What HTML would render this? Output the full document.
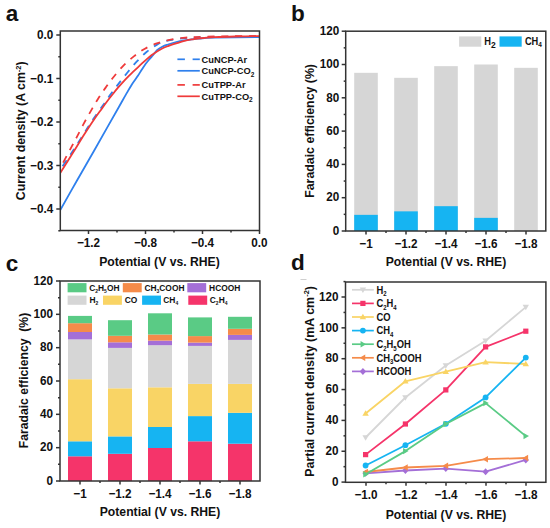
<!DOCTYPE html>
<html><head><meta charset="utf-8"><style>
html,body{margin:0;padding:0;background:#fff;}
svg{display:block;}
text{font-family:'Liberation Sans', sans-serif;font-weight:bold;fill:#111111;}
</style></head><body>
<svg width="550" height="528" viewBox="0 0 550 528">
<defs><clipPath id="clipa"><rect x="60" y="31" width="199.5" height="199.5"/></clipPath></defs>
<rect width="550" height="528" fill="#fff"/>
<text x="5.80" y="21.00" font-size="22.5" text-anchor="start" >a</text>
<g clip-path="url(#clipa)" fill="none" stroke-width="1.8">
<path d="M62.30,166.60 C63.91,164.22 68.55,157.52 71.95,152.35 C75.35,147.18 79.36,140.82 82.70,135.60 C86.04,130.38 88.65,126.00 92.00,121.00 C95.35,116.00 99.67,110.08 102.80,105.60 C105.93,101.12 108.15,97.77 110.80,94.10 C113.45,90.43 115.96,87.16 118.70,83.60 C121.44,80.04 124.30,76.36 127.25,72.75 C130.20,69.14 133.14,65.45 136.40,61.95 C139.66,58.45 143.28,54.67 146.80,51.75 C150.32,48.83 154.05,46.24 157.50,44.40 C160.95,42.56 163.25,41.72 167.50,40.70 C171.75,39.68 177.58,38.87 183.00,38.30 C188.42,37.73 192.17,37.57 200.00,37.30 C207.83,37.03 220.08,36.85 230.00,36.70 C239.92,36.55 254.58,36.45 259.50,36.40" stroke="#2f80ed" stroke-dasharray="7 6.75" stroke-dashoffset="13.15"/>
<path d="M62.30,164.20 C63.75,161.47 68.57,152.36 71.00,147.80 C73.43,143.24 74.84,140.75 76.90,136.85 C78.96,132.95 81.08,128.61 83.35,124.40 C85.62,120.19 88.09,115.80 90.50,111.60 C92.91,107.40 95.47,102.92 97.80,99.20 C100.12,95.48 102.06,92.70 104.45,89.30 C106.84,85.90 109.07,82.67 112.15,78.80 C115.23,74.93 119.28,69.88 122.95,66.10 C126.62,62.32 130.49,59.00 134.15,56.10 C137.81,53.20 141.12,50.82 144.90,48.70 C148.68,46.58 152.87,44.83 156.80,43.40 C160.73,41.97 164.13,41.02 168.50,40.10 C172.87,39.18 178.50,38.40 183.00,37.90 C187.50,37.40 189.33,37.35 195.50,37.10 C201.67,36.85 209.33,36.58 220.00,36.40 C230.67,36.22 252.92,36.07 259.50,36.00" stroke="#ef3a3a" stroke-dasharray="7 6.75" stroke-dashoffset="11.7"/>
<path d="M60.40,209.80 C63.17,204.92 71.32,190.47 77.00,180.50 C82.68,170.53 89.33,159.07 94.50,150.00 C99.67,140.93 103.87,133.38 108.00,126.10 C112.13,118.82 116.30,111.58 119.30,106.30 C122.30,101.02 123.88,98.08 126.00,94.40 C128.12,90.72 130.02,87.30 132.00,84.20 C133.98,81.10 136.28,78.20 137.90,75.80 C139.52,73.40 140.40,71.80 141.70,69.80 C143.00,67.80 144.32,65.67 145.70,63.80 C147.08,61.93 148.78,60.03 150.00,58.60 C151.22,57.17 151.83,56.62 153.00,55.20 C154.17,53.78 155.38,51.55 157.00,50.10 C158.62,48.65 160.87,47.43 162.70,46.50 C164.53,45.57 165.75,45.25 168.00,44.50 C170.25,43.75 173.47,42.68 176.20,42.00 C178.93,41.32 180.77,40.95 184.40,40.40 C188.03,39.85 192.90,39.15 198.00,38.70 C203.10,38.25 204.75,37.98 215.00,37.70 C225.25,37.42 252.08,37.12 259.50,37.00" stroke="#2f80ed"/>
<path d="M60.40,172.70 C61.58,170.82 64.92,165.52 67.50,161.40 C70.08,157.28 73.36,152.11 75.90,148.00 C78.44,143.89 80.67,140.10 82.75,136.75 C84.83,133.40 86.34,131.03 88.40,127.90 C90.46,124.78 92.93,121.12 95.10,118.00 C97.27,114.88 99.42,111.95 101.40,109.20 C103.38,106.45 105.12,104.00 107.00,101.50 C108.88,99.00 110.87,96.50 112.70,94.20 C114.53,91.90 116.37,89.63 118.00,87.70 C119.63,85.77 120.77,84.48 122.50,82.60 C124.23,80.72 126.65,78.18 128.40,76.40 C130.15,74.62 131.42,73.42 133.00,71.90 C134.58,70.38 135.78,69.25 137.90,67.30 C140.02,65.35 143.45,62.20 145.70,60.20 C147.95,58.20 149.52,56.77 151.40,55.30 C153.28,53.83 155.12,52.58 157.00,51.40 C158.88,50.22 160.87,49.08 162.70,48.20 C164.53,47.32 165.75,46.90 168.00,46.10 C170.25,45.30 173.47,44.27 176.20,43.40 C178.93,42.53 181.68,41.58 184.40,40.90 C187.12,40.22 190.23,39.70 192.50,39.30 C194.77,38.90 194.25,38.85 198.00,38.50 C201.75,38.15 208.83,37.53 215.00,37.20 C221.17,36.87 227.58,36.68 235.00,36.50 C242.42,36.32 255.42,36.17 259.50,36.10" stroke="#ef3a3a"/>
</g>
<rect x="60.3" y="31" width="199.2" height="199.5" fill="none" stroke="#333333" stroke-width="1.5"/>
<line x1="56.3" y1="35.00" x2="60.3" y2="35.00" stroke="#333333" stroke-width="1.5"/>
<line x1="56.3" y1="78.50" x2="60.3" y2="78.50" stroke="#333333" stroke-width="1.5"/>
<line x1="56.3" y1="122.00" x2="60.3" y2="122.00" stroke="#333333" stroke-width="1.5"/>
<line x1="56.3" y1="165.50" x2="60.3" y2="165.50" stroke="#333333" stroke-width="1.5"/>
<line x1="56.3" y1="209.00" x2="60.3" y2="209.00" stroke="#333333" stroke-width="1.5"/>
<line x1="58.3" y1="56.75" x2="60.3" y2="56.75" stroke="#333333" stroke-width="1.5"/>
<line x1="58.3" y1="100.25" x2="60.3" y2="100.25" stroke="#333333" stroke-width="1.5"/>
<line x1="58.3" y1="143.75" x2="60.3" y2="143.75" stroke="#333333" stroke-width="1.5"/>
<line x1="58.3" y1="187.25" x2="60.3" y2="187.25" stroke="#333333" stroke-width="1.5"/>
<line x1="58.3" y1="230.75" x2="60.3" y2="230.75" stroke="#333333" stroke-width="1.5"/>
<line x1="88.50" y1="230.5" x2="88.50" y2="234.0" stroke="#333333" stroke-width="1.5"/>
<line x1="145.50" y1="230.5" x2="145.50" y2="234.0" stroke="#333333" stroke-width="1.5"/>
<line x1="202.50" y1="230.5" x2="202.50" y2="234.0" stroke="#333333" stroke-width="1.5"/>
<line x1="259.50" y1="230.5" x2="259.50" y2="234.0" stroke="#333333" stroke-width="1.5"/>
<line x1="117.00" y1="230.5" x2="117.00" y2="232.5" stroke="#333333" stroke-width="1.5"/>
<line x1="174.00" y1="230.5" x2="174.00" y2="232.5" stroke="#333333" stroke-width="1.5"/>
<line x1="231.00" y1="230.5" x2="231.00" y2="232.5" stroke="#333333" stroke-width="1.5"/>
<text transform="translate(53.20,39.20) scale(1,1.06)" font-size="11.7" text-anchor="end" >0.0</text>
<text transform="translate(53.20,82.70) scale(1,1.06)" font-size="11.7" text-anchor="end" >−0.1</text>
<text transform="translate(53.20,126.20) scale(1,1.06)" font-size="11.7" text-anchor="end" >−0.2</text>
<text transform="translate(53.20,169.70) scale(1,1.06)" font-size="11.7" text-anchor="end" >−0.3</text>
<text transform="translate(53.20,213.20) scale(1,1.06)" font-size="11.7" text-anchor="end" >−0.4</text>
<text transform="translate(88.50,246.60) scale(1,1.06)" font-size="11.7" text-anchor="middle" >−1.2</text>
<text transform="translate(145.50,246.60) scale(1,1.06)" font-size="11.7" text-anchor="middle" >−0.8</text>
<text transform="translate(202.50,246.60) scale(1,1.06)" font-size="11.7" text-anchor="middle" >−0.4</text>
<text transform="translate(259.50,246.60) scale(1,1.06)" font-size="11.7" text-anchor="middle" >0.0</text>
<text x="159.50" y="265.50" font-size="12.2" text-anchor="middle" >Potential (V vs. RHE)</text>
<text transform="translate(25.4,130.8) rotate(-90)" font-size="12.3" text-anchor="middle">Current density (A cm<tspan font-size="7.5" dy="-4.5">-2</tspan><tspan dy="4.5">)</tspan></text>
<line x1="177.4" y1="59.3" x2="184.9" y2="59.3" stroke="#2f80ed" stroke-width="1.7"/>
<line x1="192.6" y1="59.3" x2="199.8" y2="59.3" stroke="#2f80ed" stroke-width="1.7"/>
<text transform="translate(201.60,62.70) scale(1,1.06)" font-size="9.3" text-anchor="start" >CuNCP-Ar</text>
<line x1="177.4" y1="70.8" x2="199.8" y2="70.8" stroke="#2f80ed" stroke-width="1.7"/>
<text transform="translate(201.60,74.20) scale(1,1.06)" font-size="9.3" text-anchor="start" >CuNCP-CO<tspan font-size="6.5" dy="2.5">2</tspan></text>
<line x1="177.4" y1="84.9" x2="184.9" y2="84.9" stroke="#ef3a3a" stroke-width="1.7"/>
<line x1="192.6" y1="84.9" x2="199.8" y2="84.9" stroke="#ef3a3a" stroke-width="1.7"/>
<text transform="translate(201.60,88.30) scale(1,1.06)" font-size="9.3" text-anchor="start" >CuTPP-Ar</text>
<line x1="177.4" y1="96.3" x2="199.8" y2="96.3" stroke="#ef3a3a" stroke-width="1.7"/>
<text transform="translate(201.60,99.70) scale(1,1.06)" font-size="9.3" text-anchor="start" >CuTPP-CO<tspan font-size="6.5" dy="2.5">2</tspan></text>
<text x="291.00" y="20.50" font-size="22.5" text-anchor="start" >b</text>
<rect x="354.20" y="72.82" width="23.6" height="158.18" fill="#d6d6d6"/>
<rect x="354.20" y="214.85" width="23.6" height="16.15" fill="#16b4f2"/>
<rect x="394.20" y="77.82" width="23.6" height="153.18" fill="#d6d6d6"/>
<rect x="394.20" y="211.35" width="23.6" height="19.65" fill="#16b4f2"/>
<rect x="434.20" y="66.16" width="23.6" height="164.84" fill="#d6d6d6"/>
<rect x="434.20" y="206.19" width="23.6" height="24.81" fill="#16b4f2"/>
<rect x="474.20" y="64.50" width="23.6" height="166.50" fill="#d6d6d6"/>
<rect x="474.20" y="217.85" width="23.6" height="13.15" fill="#16b4f2"/>
<rect x="514.20" y="67.83" width="23.6" height="163.17" fill="#d6d6d6"/>
<rect x="345.7" y="31.2" width="200.09999999999997" height="199.8" fill="none" stroke="#333333" stroke-width="1.5"/>
<line x1="341.7" y1="231.00" x2="345.7" y2="231.00" stroke="#333333" stroke-width="1.5"/>
<line x1="341.7" y1="197.70" x2="345.7" y2="197.70" stroke="#333333" stroke-width="1.5"/>
<line x1="341.7" y1="164.40" x2="345.7" y2="164.40" stroke="#333333" stroke-width="1.5"/>
<line x1="341.7" y1="131.10" x2="345.7" y2="131.10" stroke="#333333" stroke-width="1.5"/>
<line x1="341.7" y1="97.80" x2="345.7" y2="97.80" stroke="#333333" stroke-width="1.5"/>
<line x1="341.7" y1="64.50" x2="345.7" y2="64.50" stroke="#333333" stroke-width="1.5"/>
<line x1="341.7" y1="31.20" x2="345.7" y2="31.20" stroke="#333333" stroke-width="1.5"/>
<line x1="343.7" y1="214.35" x2="345.7" y2="214.35" stroke="#333333" stroke-width="1.5"/>
<line x1="343.7" y1="181.05" x2="345.7" y2="181.05" stroke="#333333" stroke-width="1.5"/>
<line x1="343.7" y1="147.75" x2="345.7" y2="147.75" stroke="#333333" stroke-width="1.5"/>
<line x1="343.7" y1="114.45" x2="345.7" y2="114.45" stroke="#333333" stroke-width="1.5"/>
<line x1="343.7" y1="81.15" x2="345.7" y2="81.15" stroke="#333333" stroke-width="1.5"/>
<line x1="343.7" y1="47.85" x2="345.7" y2="47.85" stroke="#333333" stroke-width="1.5"/>
<line x1="366.00" y1="231" x2="366.00" y2="234.5" stroke="#333333" stroke-width="1.5"/>
<line x1="406.00" y1="231" x2="406.00" y2="234.5" stroke="#333333" stroke-width="1.5"/>
<line x1="446.00" y1="231" x2="446.00" y2="234.5" stroke="#333333" stroke-width="1.5"/>
<line x1="486.00" y1="231" x2="486.00" y2="234.5" stroke="#333333" stroke-width="1.5"/>
<line x1="526.00" y1="231" x2="526.00" y2="234.5" stroke="#333333" stroke-width="1.5"/>
<line x1="386.00" y1="231" x2="386.00" y2="233" stroke="#333333" stroke-width="1.5"/>
<line x1="426.00" y1="231" x2="426.00" y2="233" stroke="#333333" stroke-width="1.5"/>
<line x1="466.00" y1="231" x2="466.00" y2="233" stroke="#333333" stroke-width="1.5"/>
<line x1="506.00" y1="231" x2="506.00" y2="233" stroke="#333333" stroke-width="1.5"/>
<text transform="translate(339.20,234.70) scale(1,1.06)" font-size="11.7" text-anchor="end" >0</text>
<text transform="translate(339.20,201.40) scale(1,1.06)" font-size="11.7" text-anchor="end" >20</text>
<text transform="translate(339.20,168.10) scale(1,1.06)" font-size="11.7" text-anchor="end" >40</text>
<text transform="translate(339.20,134.80) scale(1,1.06)" font-size="11.7" text-anchor="end" >60</text>
<text transform="translate(339.20,101.50) scale(1,1.06)" font-size="11.7" text-anchor="end" >80</text>
<text transform="translate(339.20,68.20) scale(1,1.06)" font-size="11.7" text-anchor="end" >100</text>
<text transform="translate(339.20,34.90) scale(1,1.06)" font-size="11.7" text-anchor="end" >120</text>
<text transform="translate(366.00,247.50) scale(1,1.06)" font-size="11.7" text-anchor="middle" >−1</text>
<text transform="translate(406.00,247.50) scale(1,1.06)" font-size="11.7" text-anchor="middle" >−1.2</text>
<text transform="translate(446.00,247.50) scale(1,1.06)" font-size="11.7" text-anchor="middle" >−1.4</text>
<text transform="translate(486.00,247.50) scale(1,1.06)" font-size="11.7" text-anchor="middle" >−1.6</text>
<text transform="translate(526.00,247.50) scale(1,1.06)" font-size="11.7" text-anchor="middle" >−1.8</text>
<text x="446.00" y="265.70" font-size="12.2" text-anchor="middle" >Potential (V vs. RHE)</text>
<text transform="translate(314.2,130.9) rotate(-90)" font-size="12.35" text-anchor="middle">Faradaic efficiency (%)</text>
<rect x="459.1" y="36.4" width="22.2" height="10.3" fill="#d6d6d6"/>
<rect x="499.5" y="36.4" width="22.2" height="10.3" fill="#16b4f2"/>
<text transform="translate(484.30,45.10) scale(1,1.08)" font-size="9.3" text-anchor="start" >H<tspan font-size="8.5" dy="2.5">2</tspan></text>
<text transform="translate(524.90,45.10) scale(1,1.08)" font-size="9.3" text-anchor="start" >CH<tspan font-size="6.5" dy="2">4</tspan></text>
<text x="5.80" y="270.70" font-size="22.5" text-anchor="start" >c</text>
<rect x="68" y="456.30" width="24" height="24.70" fill="#f5346a"/>
<rect x="68" y="441.30" width="24" height="15.00" fill="#16b4f2"/>
<rect x="68" y="379.20" width="24" height="62.10" fill="#f9d465"/>
<rect x="68" y="339.40" width="24" height="39.80" fill="#d6d6d6"/>
<rect x="68" y="332.00" width="24" height="7.40" fill="#a46fd7"/>
<rect x="68" y="323.20" width="24" height="8.80" fill="#f58b4a"/>
<rect x="68" y="315.90" width="24" height="7.30" fill="#5acb85"/>
<rect x="108" y="453.80" width="24" height="27.20" fill="#f5346a"/>
<rect x="108" y="436.40" width="24" height="17.40" fill="#16b4f2"/>
<rect x="108" y="388.30" width="24" height="48.10" fill="#f9d465"/>
<rect x="108" y="347.90" width="24" height="40.40" fill="#d6d6d6"/>
<rect x="108" y="342.30" width="24" height="5.60" fill="#a46fd7"/>
<rect x="108" y="335.80" width="24" height="6.50" fill="#f58b4a"/>
<rect x="108" y="320.20" width="24" height="15.60" fill="#5acb85"/>
<rect x="148" y="448.00" width="24" height="33.00" fill="#f5346a"/>
<rect x="148" y="427.00" width="24" height="21.00" fill="#16b4f2"/>
<rect x="148" y="387.30" width="24" height="39.70" fill="#f9d465"/>
<rect x="148" y="345.20" width="24" height="42.10" fill="#d6d6d6"/>
<rect x="148" y="340.60" width="24" height="4.60" fill="#a46fd7"/>
<rect x="148" y="334.50" width="24" height="6.10" fill="#f58b4a"/>
<rect x="148" y="313.30" width="24" height="21.20" fill="#5acb85"/>
<rect x="188" y="441.30" width="24" height="39.70" fill="#f5346a"/>
<rect x="188" y="416.10" width="24" height="25.20" fill="#16b4f2"/>
<rect x="188" y="383.90" width="24" height="32.20" fill="#f9d465"/>
<rect x="188" y="345.90" width="24" height="38.00" fill="#d6d6d6"/>
<rect x="188" y="342.60" width="24" height="3.30" fill="#a46fd7"/>
<rect x="188" y="336.10" width="24" height="6.50" fill="#f58b4a"/>
<rect x="188" y="317.40" width="24" height="18.70" fill="#5acb85"/>
<rect x="228" y="443.70" width="24" height="37.30" fill="#f5346a"/>
<rect x="228" y="412.80" width="24" height="30.90" fill="#16b4f2"/>
<rect x="228" y="383.90" width="24" height="28.90" fill="#f9d465"/>
<rect x="228" y="339.90" width="24" height="44.00" fill="#d6d6d6"/>
<rect x="228" y="334.90" width="24" height="5.00" fill="#a46fd7"/>
<rect x="228" y="328.80" width="24" height="6.10" fill="#f58b4a"/>
<rect x="228" y="316.80" width="24" height="12.00" fill="#5acb85"/>
<rect x="60" y="281" width="200" height="200" fill="none" stroke="#333333" stroke-width="1.5"/>
<line x1="56" y1="481.00" x2="60" y2="481.00" stroke="#333333" stroke-width="1.5"/>
<line x1="56" y1="447.67" x2="60" y2="447.67" stroke="#333333" stroke-width="1.5"/>
<line x1="56" y1="414.33" x2="60" y2="414.33" stroke="#333333" stroke-width="1.5"/>
<line x1="56" y1="381.00" x2="60" y2="381.00" stroke="#333333" stroke-width="1.5"/>
<line x1="56" y1="347.67" x2="60" y2="347.67" stroke="#333333" stroke-width="1.5"/>
<line x1="56" y1="314.33" x2="60" y2="314.33" stroke="#333333" stroke-width="1.5"/>
<line x1="56" y1="281.00" x2="60" y2="281.00" stroke="#333333" stroke-width="1.5"/>
<line x1="58" y1="464.33" x2="60" y2="464.33" stroke="#333333" stroke-width="1.5"/>
<line x1="58" y1="431.00" x2="60" y2="431.00" stroke="#333333" stroke-width="1.5"/>
<line x1="58" y1="397.67" x2="60" y2="397.67" stroke="#333333" stroke-width="1.5"/>
<line x1="58" y1="364.33" x2="60" y2="364.33" stroke="#333333" stroke-width="1.5"/>
<line x1="58" y1="331.00" x2="60" y2="331.00" stroke="#333333" stroke-width="1.5"/>
<line x1="58" y1="297.67" x2="60" y2="297.67" stroke="#333333" stroke-width="1.5"/>
<line x1="80.00" y1="481" x2="80.00" y2="484.5" stroke="#333333" stroke-width="1.5"/>
<line x1="120.00" y1="481" x2="120.00" y2="484.5" stroke="#333333" stroke-width="1.5"/>
<line x1="160.00" y1="481" x2="160.00" y2="484.5" stroke="#333333" stroke-width="1.5"/>
<line x1="200.00" y1="481" x2="200.00" y2="484.5" stroke="#333333" stroke-width="1.5"/>
<line x1="240.00" y1="481" x2="240.00" y2="484.5" stroke="#333333" stroke-width="1.5"/>
<line x1="100.00" y1="481" x2="100.00" y2="483" stroke="#333333" stroke-width="1.5"/>
<line x1="140.00" y1="481" x2="140.00" y2="483" stroke="#333333" stroke-width="1.5"/>
<line x1="180.00" y1="481" x2="180.00" y2="483" stroke="#333333" stroke-width="1.5"/>
<line x1="220.00" y1="481" x2="220.00" y2="483" stroke="#333333" stroke-width="1.5"/>
<text transform="translate(53.00,484.70) scale(1,1.06)" font-size="11.7" text-anchor="end" >0</text>
<text transform="translate(53.00,451.37) scale(1,1.06)" font-size="11.7" text-anchor="end" >20</text>
<text transform="translate(53.00,418.03) scale(1,1.06)" font-size="11.7" text-anchor="end" >40</text>
<text transform="translate(53.00,384.70) scale(1,1.06)" font-size="11.7" text-anchor="end" >60</text>
<text transform="translate(53.00,351.37) scale(1,1.06)" font-size="11.7" text-anchor="end" >80</text>
<text transform="translate(53.00,318.03) scale(1,1.06)" font-size="11.7" text-anchor="end" >100</text>
<text transform="translate(53.00,284.70) scale(1,1.06)" font-size="11.7" text-anchor="end" >120</text>
<text transform="translate(80.00,498.10) scale(1,1.06)" font-size="11.7" text-anchor="middle" >−1</text>
<text transform="translate(120.00,498.10) scale(1,1.06)" font-size="11.7" text-anchor="middle" >−1.2</text>
<text transform="translate(160.00,498.10) scale(1,1.06)" font-size="11.7" text-anchor="middle" >−1.4</text>
<text transform="translate(200.00,498.10) scale(1,1.06)" font-size="11.7" text-anchor="middle" >−1.6</text>
<text transform="translate(240.00,498.10) scale(1,1.06)" font-size="11.7" text-anchor="middle" >−1.8</text>
<text x="160.00" y="515.60" font-size="12.2" text-anchor="middle" >Potential (V vs. RHE)</text>
<text transform="translate(28.2,380.5) rotate(-90)" font-size="12.2" text-anchor="middle" xml:space="preserve">Faradaic efficiency  (%)</text>
<rect x="67.6" y="283.1" width="18.9" height="9.2" fill="#5acb85"/>
<text transform="translate(89.20,290.50) scale(1,1.08)" font-size="8.4" text-anchor="start" >C<tspan font-size="5" dy="2">2</tspan><tspan dy="-2">H</tspan><tspan font-size="5" dy="2">5</tspan><tspan dy="-2">OH</tspan></text>
<rect x="122.8" y="283.1" width="18.9" height="9.2" fill="#f58b4a"/>
<text transform="translate(144.40,290.50) scale(1,1.08)" font-size="8.4" text-anchor="start" >CH<tspan font-size="5" dy="2">3</tspan><tspan dy="-2">COOH</tspan></text>
<rect x="187.3" y="283.1" width="18.9" height="9.2" fill="#a46fd7"/>
<text transform="translate(209.10,290.50) scale(1,1.08)" font-size="8.4" text-anchor="start" >HCOOH</text>
<rect x="67.6" y="295.6" width="18.9" height="9.2" fill="#d6d6d6"/>
<text transform="translate(89.50,303.00) scale(1,1.08)" font-size="8.4" text-anchor="start" >H<tspan font-size="5" dy="2">2</tspan></text>
<rect x="103.0" y="295.6" width="18.9" height="9.2" fill="#f9d465"/>
<text transform="translate(124.80,303.00) scale(1,1.08)" font-size="8.4" text-anchor="start" >CO</text>
<rect x="142.1" y="295.6" width="18.9" height="9.2" fill="#16b4f2"/>
<text transform="translate(163.30,303.00) scale(1,1.08)" font-size="8.4" text-anchor="start" >CH<tspan font-size="5" dy="2">4</tspan></text>
<rect x="188.3" y="295.6" width="18.9" height="9.2" fill="#f5346a"/>
<text transform="translate(209.80,303.00) scale(1,1.08)" font-size="8.4" text-anchor="start" >C<tspan font-size="5" dy="2">2</tspan><tspan dy="-2">H</tspan><tspan font-size="5" dy="2">4</tspan></text>
<text x="291.00" y="269.70" font-size="22.5" text-anchor="start" >d</text>
<polyline points="365.60,437.50 405.40,397.50 445.80,365.50 485.60,340.70 525.80,307.10" fill="none" stroke="#d6d6d6" stroke-width="1.8" stroke-linejoin="round"/>
<path d="M365.60,440.69 L368.79,435.18 L362.41,435.18Z" fill="#d6d6d6"/>
<path d="M405.40,400.69 L408.59,395.18 L402.21,395.18Z" fill="#d6d6d6"/>
<path d="M445.80,368.69 L448.99,363.18 L442.61,363.18Z" fill="#d6d6d6"/>
<path d="M485.60,343.89 L488.79,338.38 L482.41,338.38Z" fill="#d6d6d6"/>
<path d="M525.80,310.29 L528.99,304.78 L522.61,304.78Z" fill="#d6d6d6"/>
<polyline points="365.60,454.60 405.40,424.00 445.80,389.90 485.60,346.90 525.80,331.20" fill="none" stroke="#f5346a" stroke-width="1.8" stroke-linejoin="round"/>
<rect x="362.99" y="451.99" width="5.22" height="5.22" fill="#f5346a"/>
<rect x="402.79" y="421.39" width="5.22" height="5.22" fill="#f5346a"/>
<rect x="443.19" y="387.29" width="5.22" height="5.22" fill="#f5346a"/>
<rect x="482.99" y="344.29" width="5.22" height="5.22" fill="#f5346a"/>
<rect x="523.19" y="328.59" width="5.22" height="5.22" fill="#f5346a"/>
<polyline points="365.60,413.50 405.40,381.30 445.80,371.60 485.60,362.10 525.80,364.00" fill="none" stroke="#f9d465" stroke-width="1.8" stroke-linejoin="round"/>
<path d="M365.60,410.31 L368.79,415.82 L362.41,415.82Z" fill="#f9d465"/>
<path d="M405.40,378.11 L408.59,383.62 L402.21,383.62Z" fill="#f9d465"/>
<path d="M445.80,368.41 L448.99,373.92 L442.61,373.92Z" fill="#f9d465"/>
<path d="M485.60,358.91 L488.79,364.42 L482.41,364.42Z" fill="#f9d465"/>
<path d="M525.80,360.81 L528.99,366.32 L522.61,366.32Z" fill="#f9d465"/>
<polyline points="365.60,465.50 405.40,445.20 445.80,423.80 485.60,397.40 525.80,357.60" fill="none" stroke="#16b4f2" stroke-width="1.8" stroke-linejoin="round"/>
<circle cx="365.60" cy="465.50" r="2.90" fill="#16b4f2"/>
<circle cx="405.40" cy="445.20" r="2.90" fill="#16b4f2"/>
<circle cx="445.80" cy="423.80" r="2.90" fill="#16b4f2"/>
<circle cx="485.60" cy="397.40" r="2.90" fill="#16b4f2"/>
<circle cx="525.80" cy="357.60" r="2.90" fill="#16b4f2"/>
<polyline points="365.60,473.30 405.40,470.50 445.80,468.60 485.60,471.70 525.80,459.90" fill="none" stroke="#a46fd7" stroke-width="1.8" stroke-linejoin="round"/>
<path d="M365.60,469.82 L368.79,473.30 L365.60,476.78 L362.41,473.30Z" fill="#a46fd7"/>
<path d="M405.40,467.02 L408.59,470.50 L405.40,473.98 L402.21,470.50Z" fill="#a46fd7"/>
<path d="M445.80,465.12 L448.99,468.60 L445.80,472.08 L442.61,468.60Z" fill="#a46fd7"/>
<path d="M485.60,468.22 L488.79,471.70 L485.60,475.18 L482.41,471.70Z" fill="#a46fd7"/>
<path d="M525.80,456.42 L528.99,459.90 L525.80,463.38 L522.61,459.90Z" fill="#a46fd7"/>
<polyline points="365.60,472.00 405.40,467.50 445.80,465.80 485.60,459.20 525.80,458.00" fill="none" stroke="#f58b4a" stroke-width="1.8" stroke-linejoin="round"/>
<path d="M362.41,472.00 L367.92,468.81 L367.92,475.19Z" fill="#f58b4a"/>
<path d="M402.21,467.50 L407.72,464.31 L407.72,470.69Z" fill="#f58b4a"/>
<path d="M442.61,465.80 L448.12,462.61 L448.12,468.99Z" fill="#f58b4a"/>
<path d="M482.41,459.20 L487.92,456.01 L487.92,462.39Z" fill="#f58b4a"/>
<path d="M522.61,458.00 L528.12,454.81 L528.12,461.19Z" fill="#f58b4a"/>
<polyline points="365.60,474.30 405.40,451.10 445.80,424.00 485.60,403.10 525.80,436.10" fill="none" stroke="#5acb85" stroke-width="1.8" stroke-linejoin="round"/>
<path d="M368.79,474.30 L363.28,471.11 L363.28,477.49Z" fill="#5acb85"/>
<path d="M408.59,451.10 L403.08,447.91 L403.08,454.29Z" fill="#5acb85"/>
<path d="M448.99,424.00 L443.48,420.81 L443.48,427.19Z" fill="#5acb85"/>
<path d="M488.79,403.10 L483.28,399.91 L483.28,406.29Z" fill="#5acb85"/>
<path d="M528.99,436.10 L523.48,432.91 L523.48,439.29Z" fill="#5acb85"/>
<rect x="345.5" y="282" width="200.39999999999998" height="200.3" fill="none" stroke="#333333" stroke-width="1.5"/>
<line x1="341.5" y1="482.10" x2="345.5" y2="482.10" stroke="#333333" stroke-width="1.5"/>
<line x1="341.5" y1="451.25" x2="345.5" y2="451.25" stroke="#333333" stroke-width="1.5"/>
<line x1="341.5" y1="420.40" x2="345.5" y2="420.40" stroke="#333333" stroke-width="1.5"/>
<line x1="341.5" y1="389.55" x2="345.5" y2="389.55" stroke="#333333" stroke-width="1.5"/>
<line x1="341.5" y1="358.70" x2="345.5" y2="358.70" stroke="#333333" stroke-width="1.5"/>
<line x1="341.5" y1="327.85" x2="345.5" y2="327.85" stroke="#333333" stroke-width="1.5"/>
<line x1="341.5" y1="297.00" x2="345.5" y2="297.00" stroke="#333333" stroke-width="1.5"/>
<line x1="343.5" y1="466.68" x2="345.5" y2="466.68" stroke="#333333" stroke-width="1.5"/>
<line x1="343.5" y1="435.83" x2="345.5" y2="435.83" stroke="#333333" stroke-width="1.5"/>
<line x1="343.5" y1="404.98" x2="345.5" y2="404.98" stroke="#333333" stroke-width="1.5"/>
<line x1="343.5" y1="374.12" x2="345.5" y2="374.12" stroke="#333333" stroke-width="1.5"/>
<line x1="343.5" y1="343.28" x2="345.5" y2="343.28" stroke="#333333" stroke-width="1.5"/>
<line x1="343.5" y1="312.43" x2="345.5" y2="312.43" stroke="#333333" stroke-width="1.5"/>
<line x1="343.5" y1="281.58" x2="345.5" y2="281.58" stroke="#333333" stroke-width="1.5"/>
<line x1="366.00" y1="482.3" x2="366.00" y2="485.8" stroke="#333333" stroke-width="1.5"/>
<line x1="406.00" y1="482.3" x2="406.00" y2="485.8" stroke="#333333" stroke-width="1.5"/>
<line x1="446.00" y1="482.3" x2="446.00" y2="485.8" stroke="#333333" stroke-width="1.5"/>
<line x1="486.00" y1="482.3" x2="486.00" y2="485.8" stroke="#333333" stroke-width="1.5"/>
<line x1="526.00" y1="482.3" x2="526.00" y2="485.8" stroke="#333333" stroke-width="1.5"/>
<line x1="386.00" y1="482.3" x2="386.00" y2="484.3" stroke="#333333" stroke-width="1.5"/>
<line x1="426.00" y1="482.3" x2="426.00" y2="484.3" stroke="#333333" stroke-width="1.5"/>
<line x1="466.00" y1="482.3" x2="466.00" y2="484.3" stroke="#333333" stroke-width="1.5"/>
<line x1="506.00" y1="482.3" x2="506.00" y2="484.3" stroke="#333333" stroke-width="1.5"/>
<text transform="translate(338.60,485.80) scale(1,1.06)" font-size="11.7" text-anchor="end" >0</text>
<text transform="translate(338.60,454.95) scale(1,1.06)" font-size="11.7" text-anchor="end" >20</text>
<text transform="translate(338.60,424.10) scale(1,1.06)" font-size="11.7" text-anchor="end" >40</text>
<text transform="translate(338.60,393.25) scale(1,1.06)" font-size="11.7" text-anchor="end" >60</text>
<text transform="translate(338.60,362.40) scale(1,1.06)" font-size="11.7" text-anchor="end" >80</text>
<text transform="translate(338.60,331.55) scale(1,1.06)" font-size="11.7" text-anchor="end" >100</text>
<text transform="translate(338.60,300.70) scale(1,1.06)" font-size="11.7" text-anchor="end" >120</text>
<text transform="translate(366.00,498.50) scale(1,1.06)" font-size="11.7" text-anchor="middle" >−1.0</text>
<text transform="translate(406.00,498.50) scale(1,1.06)" font-size="11.7" text-anchor="middle" >−1.2</text>
<text transform="translate(446.00,498.50) scale(1,1.06)" font-size="11.7" text-anchor="middle" >−1.4</text>
<text transform="translate(486.00,498.50) scale(1,1.06)" font-size="11.7" text-anchor="middle" >−1.6</text>
<text transform="translate(526.00,498.50) scale(1,1.06)" font-size="11.7" text-anchor="middle" >−1.8</text>
<text x="446.00" y="519.00" font-size="12.2" text-anchor="middle" >Potential (V vs. RHE)</text>
<text transform="translate(313.7,381.4) rotate(-90)" font-size="12.45" text-anchor="middle">Partial current density (mA cm<tspan font-size="7.5" dy="-4.5">-2</tspan><tspan dy="4.5">)</tspan></text>
<line x1="352" y1="289.80" x2="373.8" y2="289.80" stroke="#d6d6d6" stroke-width="1.7"/>
<path d="M362.90,292.99 L366.09,287.48 L359.71,287.48Z" fill="#d6d6d6"/>
<text transform="translate(376.40,293.60) scale(1,1.1)" font-size="9.4" text-anchor="start" >H<tspan font-size="6" dy="2.5">2</tspan></text>
<line x1="352" y1="303.40" x2="373.8" y2="303.40" stroke="#f5346a" stroke-width="1.7"/>
<rect x="360.29" y="300.79" width="5.22" height="5.22" fill="#f5346a"/>
<text transform="translate(376.40,307.20) scale(1,1.1)" font-size="9.4" text-anchor="start" >C<tspan font-size="6" dy="2.5">2</tspan><tspan dy="-2.5">H</tspan><tspan font-size="6" dy="2.5">4</tspan></text>
<line x1="352" y1="317.00" x2="373.8" y2="317.00" stroke="#f9d465" stroke-width="1.7"/>
<path d="M362.90,313.81 L366.09,319.32 L359.71,319.32Z" fill="#f9d465"/>
<text transform="translate(376.40,320.80) scale(1,1.1)" font-size="9.4" text-anchor="start" >CO</text>
<line x1="352" y1="330.60" x2="373.8" y2="330.60" stroke="#16b4f2" stroke-width="1.7"/>
<circle cx="362.90" cy="330.60" r="2.90" fill="#16b4f2"/>
<text transform="translate(376.40,334.40) scale(1,1.1)" font-size="9.4" text-anchor="start" >CH<tspan font-size="6" dy="2.5">4</tspan></text>
<line x1="352" y1="344.20" x2="373.8" y2="344.20" stroke="#5acb85" stroke-width="1.7"/>
<path d="M366.09,344.20 L360.58,341.01 L360.58,347.39Z" fill="#5acb85"/>
<text transform="translate(376.40,348.00) scale(1,1.1)" font-size="9.4" text-anchor="start" >C<tspan font-size="6" dy="2.5">2</tspan><tspan dy="-2.5">H</tspan><tspan font-size="6" dy="2.5">5</tspan><tspan dy="-2.5">OH</tspan></text>
<line x1="352" y1="357.80" x2="373.8" y2="357.80" stroke="#f58b4a" stroke-width="1.7"/>
<path d="M359.71,357.80 L365.22,354.61 L365.22,360.99Z" fill="#f58b4a"/>
<text transform="translate(376.40,361.60) scale(1,1.1)" font-size="9.4" text-anchor="start" >CH<tspan font-size="6" dy="2.5">3</tspan><tspan dy="-2.5">COOH</tspan></text>
<line x1="352" y1="371.40" x2="373.8" y2="371.40" stroke="#a46fd7" stroke-width="1.7"/>
<path d="M362.90,367.92 L366.09,371.40 L362.90,374.88 L359.71,371.40Z" fill="#a46fd7"/>
<text transform="translate(376.40,375.20) scale(1,1.1)" font-size="9.4" text-anchor="start" >HCOOH</text>
<line x1="300.5" y1="279.5" x2="306.5" y2="279.5" stroke="#cfcfcf" stroke-width="1"/>
</svg>
</body></html>
